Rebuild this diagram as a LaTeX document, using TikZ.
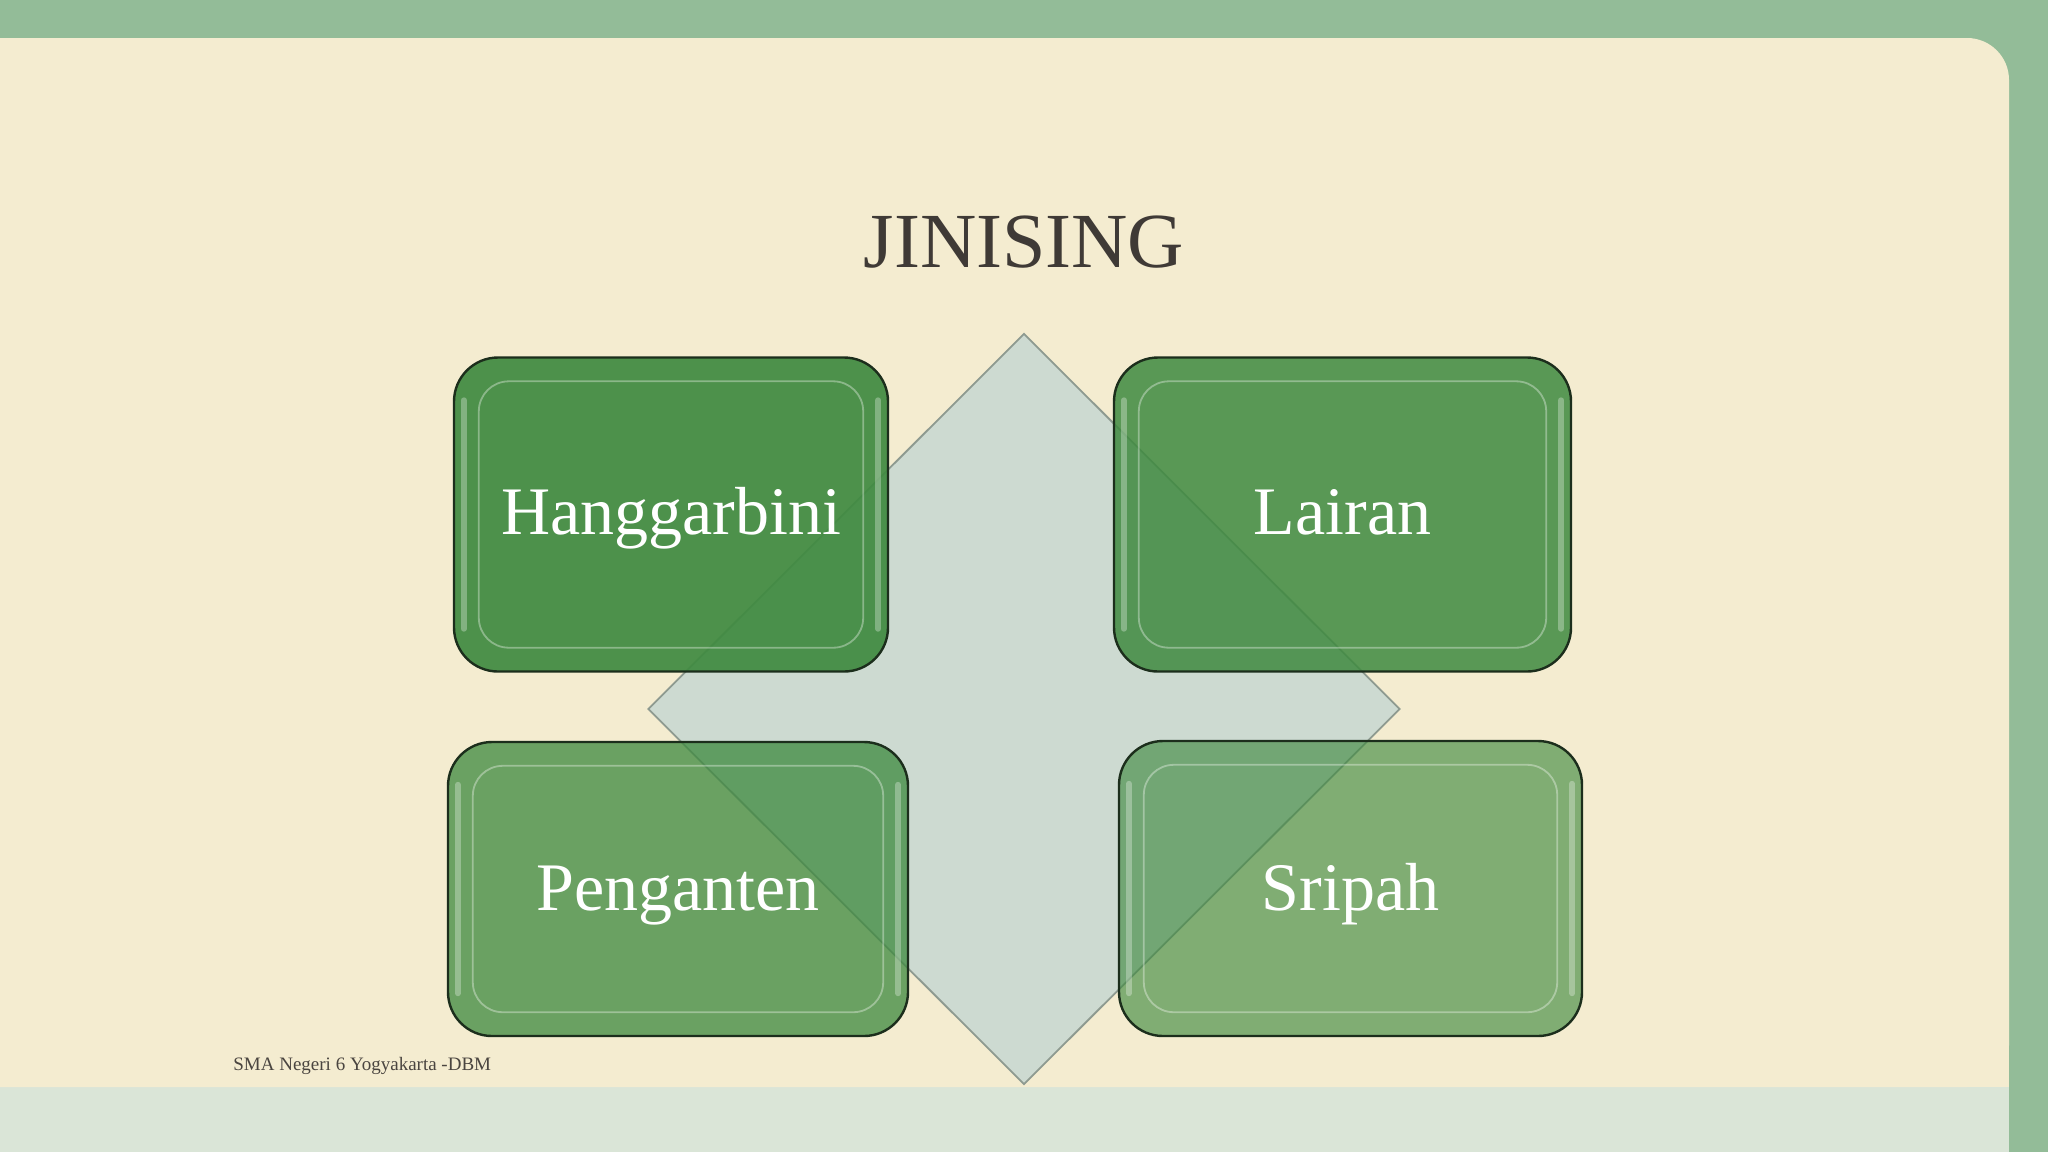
\documentclass[tikz,border=0pt]{standalone}
\usepackage{fontspec}
\setmainfont{Liberation Serif}
\usetikzlibrary{shapes.geometric}
\definecolor{bggreen}{HTML}{93BC98}
\definecolor{cream}{HTML}{F4ECD0}
\definecolor{bottomband}{HTML}{DAE5D7}
\definecolor{diafill}{HTML}{CDDAD1}
\definecolor{diaedge}{HTML}{8E9A90}
\definecolor{boxgreen}{HTML}{3F8A40}
\definecolor{boxedge}{HTML}{1C2E1C}
\definecolor{titlegray}{HTML}{3F3A36}
\definecolor{footgray}{HTML}{4A4540}
\tikzset{
  tray/.style={draw=boxedge, line width=1.2pt, fill=boxgreen, rounded corners=22pt, inner sep=0pt},
  traytext/.style={anchor=base, text=white, inner sep=0pt, font=\fontsize{34}{40}\selectfont},
  innerline/.style={draw=white, draw opacity=0.35, line width=0.9pt, rounded corners=15pt},
  gloss/.style={draw=white, draw opacity=0.3, line width=3pt, line cap=round},
}
\newcommand{\traydeco}[1]{%
  \draw[innerline] ([shift={(13pt,-12.5pt)}]#1.north west) rectangle ([shift={(-13pt,12.5pt)}]#1.south east);
  \draw[gloss] ([shift={(5.5pt,-22pt)}]#1.north west) -- ([shift={(5.5pt,22pt)}]#1.south west);
  \draw[gloss] ([shift={(-5.5pt,-22pt)}]#1.north east) -- ([shift={(-5.5pt,22pt)}]#1.south east);
}
\begin{document}
\begin{tikzpicture}[x=0.5pt, y=-0.5pt]
\useasboundingbox (0,0) rectangle (2048,1152);
% background
\fill[bggreen] (0,0) rectangle (2048,1152);
\fill[bottomband] (0,1087) rectangle (2009,1152);
\fill[cream, rounded corners=21pt] (-60,38) rectangle (2009,1087);
\fill[cream] (-60,1000) rectangle (2009,1087);
% title
\node[text=titlegray, anchor=base, inner sep=0pt, font=\fontsize{39}{46}\selectfont] (title) at (1024,267) {JINISING};
% diamond
\node[diamond, draw=diaedge, line width=0.9pt, fill=diafill, inner sep=0pt,
      minimum width=376pt, minimum height=375.5pt] (dia) at (1024,709) {};
% trays
\node[tray, fill opacity=0.92, minimum width=217pt, minimum height=157pt] (hang) at (671,514.5) {};
\traydeco{hang}
\node[traytext] (hangt) at (671,534) {Hanggarbini};
\node[tray, fill opacity=0.85, minimum width=228.5pt, minimum height=157pt] (lair) at (1342.5,514.5) {};
\traydeco{lair}
\node[traytext] (lairt) at (1342.5,534) {Lairan};
\node[tray, fill opacity=0.76, minimum width=230pt, minimum height=147pt] (peng) at (678,889) {};
\traydeco{peng}
\node[traytext] (pengt) at (678,910) {Penganten};
\node[tray, fill opacity=0.64, minimum width=231.5pt, minimum height=147.5pt] (srip) at (1350.5,888.5) {};
\traydeco{srip}
\node[traytext] (sript) at (1350.5,910) {Sripah};
% footer
\node[anchor=base west, text=footgray, font=\fontsize{9.5}{11}\selectfont, inner sep=0pt] (foot) at (233,1070) {SMA Negeri 6 Yogyakarta -DBM};
\end{tikzpicture}
\end{document}
